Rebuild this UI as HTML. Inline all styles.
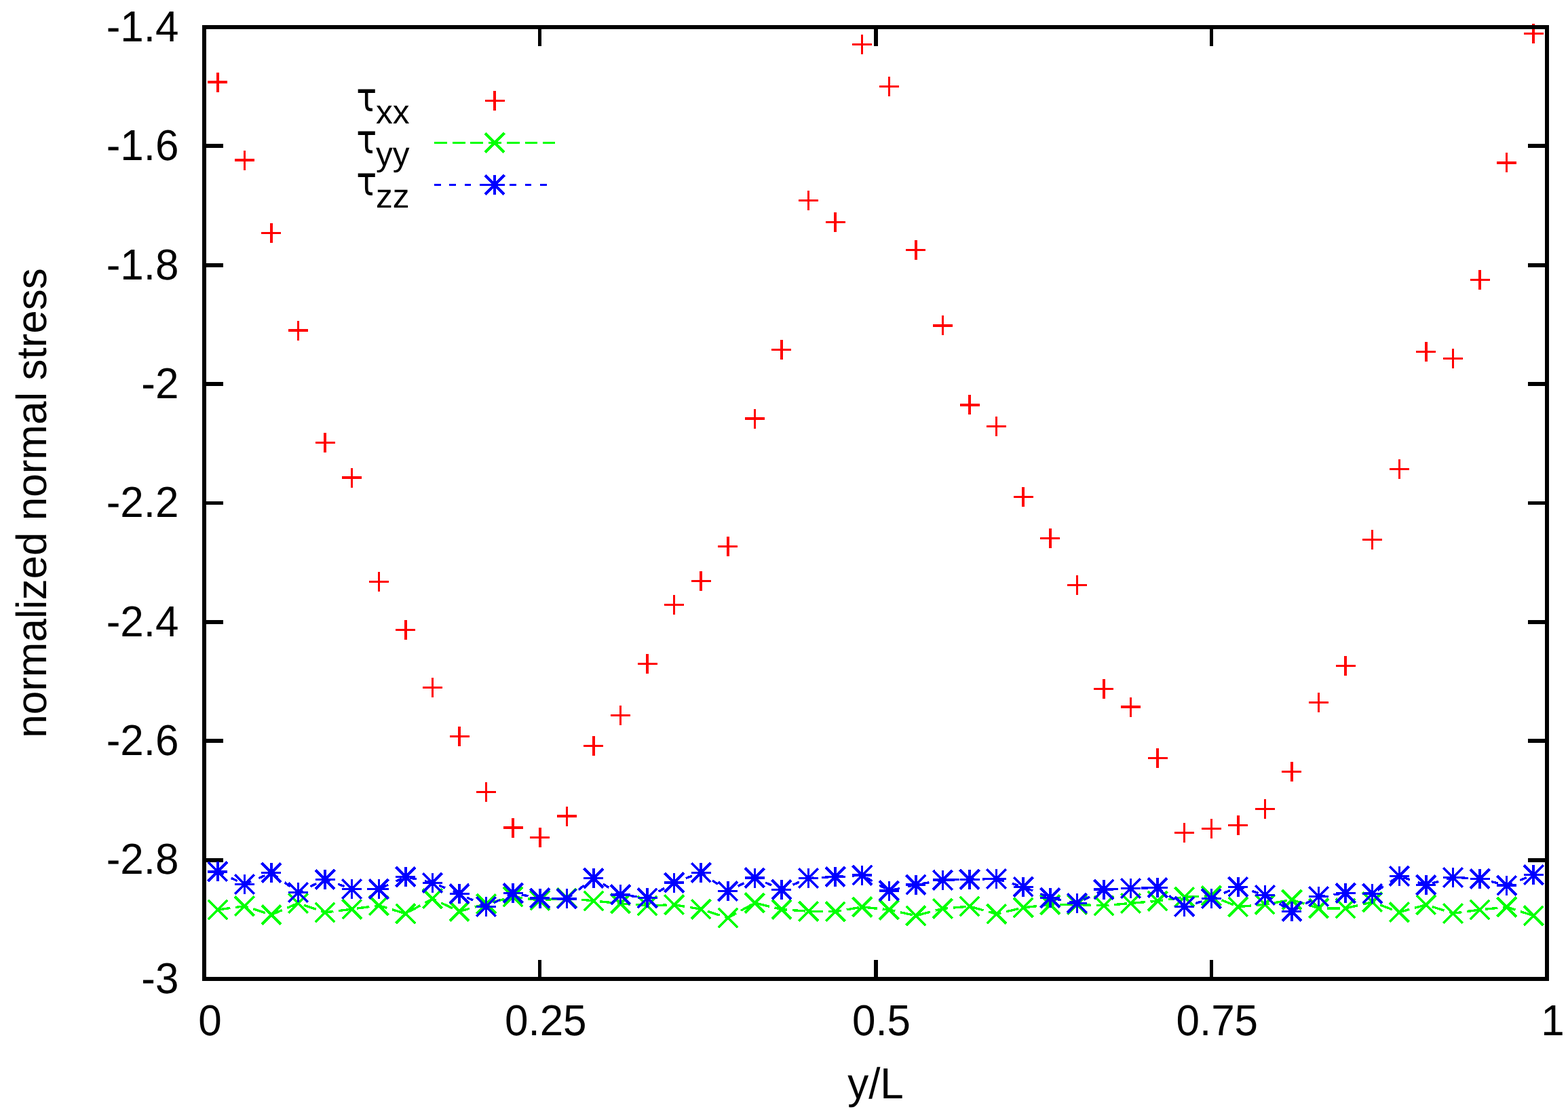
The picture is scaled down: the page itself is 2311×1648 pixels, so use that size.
<!DOCTYPE html>
<html lang="en">
<head>
<meta charset="utf-8">
<title>normalized normal stress vs y/L</title>
<style>
html,body{margin:0;padding:0;background:#fff;}
body{width:2311px;height:1648px;overflow:hidden;}
svg{display:block;}
text{font-family:"Liberation Sans",sans-serif;font-size:62px;fill:#000;text-rendering:geometricPrecision;}
.sym{font-family:"DejaVu Sans","Liberation Sans",sans-serif;font-size:59.3px;}
.sub{font-size:49.6px;}
.r{stroke:#f00;} .g{stroke:#0f0;} .b{stroke:#00f;}
.m{stroke-width:3.5;fill:none;stroke-linecap:butt;}
.x{stroke-width:3.9;fill:none;stroke-linecap:butt;}
.h{stroke-width:3.5;fill:none;stroke-linecap:butt;}
.ln{stroke-width:3.4;fill:none;stroke-linejoin:round;}
</style>
</head>
<body>
<svg width="2311" height="1648" viewBox="0 0 2311 1648">
<rect x="0" y="0" width="2311" height="1648" fill="#fff"/>
<g fill="#000" shape-rendering="crispEdges">
<rect x="301" y="212" width="28" height="6"/><rect x="2252" y="212" width="28" height="6"/>
<rect x="301" y="388" width="28" height="6"/><rect x="2252" y="388" width="28" height="6"/>
<rect x="301" y="563" width="28" height="6"/><rect x="2252" y="563" width="28" height="6"/>
<rect x="301" y="739" width="28" height="5"/><rect x="2252" y="739" width="28" height="5"/>
<rect x="301" y="914" width="28" height="6"/><rect x="2252" y="914" width="28" height="6"/>
<rect x="301" y="1089" width="28" height="6"/><rect x="2252" y="1089" width="28" height="6"/>
<rect x="301" y="1265" width="28" height="6"/><rect x="2252" y="1265" width="28" height="6"/>
<rect x="793" y="40" width="5" height="28"/><rect x="793" y="1415" width="5" height="28"/>
<rect x="1288" y="40" width="6" height="28"/><rect x="1288" y="1415" width="6" height="28"/>
<rect x="1783" y="40" width="5" height="28"/><rect x="1783" y="1415" width="5" height="28"/>
</g>
<g text-anchor="end">
<text transform="translate(263.5 60.8) scale(1 1.03)">-1.4</text>
<text transform="translate(263.5 236.18) scale(1 1.03)">-1.6</text>
<text transform="translate(263.5 411.55) scale(1 1.03)">-1.8</text>
<text transform="translate(263.5 586.92) scale(1 1.03)">-2</text>
<text transform="translate(263.5 762.3) scale(1 1.03)">-2.2</text>
<text transform="translate(263.5 937.67) scale(1 1.03)">-2.4</text>
<text transform="translate(263.5 1113.05) scale(1 1.03)">-2.6</text>
<text transform="translate(263.5 1288.42) scale(1 1.03)">-2.8</text>
<text transform="translate(263.5 1463.8) scale(1 1.03)">-3</text>
</g>
<g text-anchor="middle">
<text transform="translate(309.5 1526) scale(1 1.03)">0</text>
<text transform="translate(804.25 1526) scale(1 1.03)">0.25</text>
<text transform="translate(1299 1526) scale(1 1.03)">0.5</text>
<text transform="translate(1793.75 1526) scale(1 1.03)">0.75</text>
<text transform="translate(2288.5 1526) scale(1 1.03)">1</text>
<text transform="translate(1290.5 1619) scale(1 1.03)">y/L</text>
<text transform="translate(67.5 741.5) rotate(-90) scale(1 1.01)">normalized normal stress</text>
</g>
<g>
<text class="sym" transform="translate(525.3 163.6) scale(0.84 1)">τ</text><text class="sub" transform="translate(554 182.1) scale(1 1)">xx</text>
<text class="sym" transform="translate(525.3 225.6) scale(0.84 1)">τ</text><text class="sub" transform="translate(554 244.1) scale(1 1)">yy</text>
<text class="sym" transform="translate(525.3 287.6) scale(0.84 1)">τ</text><text class="sub" transform="translate(554 306.1) scale(1 1)">zz</text>
</g>
<g shape-rendering="crispEdges">
<path class="h r" d="M714.6 148.5H743.6M306.29 121.2H335.29M345.87 236H374.87M385.45 343.4H414.45M425.03 487H454.03M464.61 652.3H493.61M504.19 704H533.19M543.77 857.7H572.77M583.35 928.6H612.35M622.93 1013.6H651.93M662.51 1085.5H691.51M702.09 1167.5H731.09M741.67 1220.1H770.67M781.25 1234.6H810.25M820.83 1203H849.83M860.41 1099.6H889.41M899.99 1054.5H928.99M939.57 978.4H968.57M979.15 891.4H1008.15M1018.73 856.5H1047.73M1058.31 805.5H1087.31M1097.89 617H1126.89M1137.47 515.6H1166.47M1177.05 295.4H1206.05M1216.63 327.4H1245.63M1256.21 65.3H1285.21M1295.79 127.4H1324.79M1335.37 368.3H1364.37M1374.95 479.9H1403.95M1414.53 596.8H1443.53M1454.11 628.4H1483.11M1493.69 732.3H1522.69M1533.27 793.4H1562.27M1572.85 862.4H1601.85M1612.43 1015.3H1641.43M1652.01 1042.2H1681.01M1691.59 1117.3H1720.59M1731.17 1227.4H1760.17M1770.75 1221.5H1799.75M1810.33 1216.6H1839.33M1849.91 1192.3H1878.91M1889.49 1137.5H1918.49M1929.07 1035.3H1958.07M1968.65 981.3H1997.65M2008.23 795.6H2037.23M2047.81 691.4H2076.81M2087.39 518.5H2116.39M2126.97 528.4H2155.97M2166.55 412.5H2195.55M2206.13 239.8H2235.13M2245.71 49.5H2274.71"/>
<path class="m r" d="M729.1 134V163M320.79 106.7V135.7M360.37 221.5V250.5M399.95 328.9V357.9M439.53 472.5V501.5M479.11 637.8V666.8M518.69 689.5V718.5M558.27 843.2V872.2M597.85 914.1V943.1M637.43 999.1V1028.1M677.01 1071V1100M716.59 1153V1182M756.17 1205.6V1234.6M795.75 1220.1V1249.1M835.33 1188.5V1217.5M874.91 1085.1V1114.1M914.49 1040V1069M954.07 963.9V992.9M993.65 876.9V905.9M1033.23 842V871M1072.81 791V820M1112.39 602.5V631.5M1151.97 501.1V530.1M1191.55 280.9V309.9M1231.13 312.9V341.9M1270.71 50.8V79.8M1310.29 112.9V141.9M1349.87 353.8V382.8M1389.45 465.4V494.4M1429.03 582.3V611.3M1468.61 613.9V642.9M1508.19 717.8V746.8M1547.77 778.9V807.9M1587.35 847.9V876.9M1626.93 1000.8V1029.8M1666.51 1027.7V1056.7M1706.09 1102.8V1131.8M1745.67 1212.9V1241.9M1785.25 1207V1236M1824.83 1202.1V1231.1M1864.41 1177.8V1206.8M1903.99 1123V1152M1943.57 1020.8V1049.8M1983.15 966.8V995.8M2022.73 781.1V810.1M2062.31 676.9V705.9M2101.89 504V533M2141.47 513.9V542.9M2181.05 398V427M2220.63 225.3V254.3M2260.21 35V64"/>
<path class="ln g" stroke-dasharray="18.8 7.9" d="M640 210.4 H818"/>
<polyline class="ln g" stroke-dasharray="18.8 7.9" points="320.79,1341 360.37,1335.7 399.95,1348.5 439.53,1331.3 479.11,1345 518.69,1340.1 558.27,1334.7 597.85,1346.8 637.43,1324.8 677.01,1343.6 716.59,1332.2 756.17,1322 795.75,1327.1 835.33,1324 874.91,1327.9 914.49,1331.9 954.07,1334.9 993.65,1333.7 1033.23,1340.2 1072.81,1353 1112.39,1331 1151.97,1340.5 1191.55,1343.3 1231.13,1343.7 1270.71,1337 1310.29,1341 1349.87,1349.8 1389.45,1339.3 1429.03,1336.1 1468.61,1347.2 1508.19,1337.9 1547.77,1333.5 1587.35,1333.5 1626.93,1334.9 1666.51,1331.4 1706.09,1328.2 1745.67,1322.3 1785.25,1320.5 1824.83,1336.7 1864.41,1333.2 1903.99,1326.3 1943.57,1338.9 1983.15,1338.9 2022.73,1329.6 2062.31,1344.6 2101.89,1333.7 2141.47,1346.3 2181.05,1341 2220.63,1337 2260.21,1349.8"/>
<path class="x g" d="M714.9 196.2L743.3 224.6M714.9 224.6L743.3 196.2M306.59 1326.8L334.99 1355.2M306.59 1355.2L334.99 1326.8M346.17 1321.5L374.57 1349.9M346.17 1349.9L374.57 1321.5M385.75 1334.3L414.15 1362.7M385.75 1362.7L414.15 1334.3M425.33 1317.1L453.73 1345.5M425.33 1345.5L453.73 1317.1M464.91 1330.8L493.31 1359.2M464.91 1359.2L493.31 1330.8M504.49 1325.9L532.89 1354.3M504.49 1354.3L532.89 1325.9M544.07 1320.5L572.47 1348.9M544.07 1348.9L572.47 1320.5M583.65 1332.6L612.05 1361M583.65 1361L612.05 1332.6M623.23 1310.6L651.63 1339M623.23 1339L651.63 1310.6M662.81 1329.4L691.21 1357.8M662.81 1357.8L691.21 1329.4M702.39 1318L730.79 1346.4M702.39 1346.4L730.79 1318M741.97 1307.8L770.37 1336.2M741.97 1336.2L770.37 1307.8M781.55 1312.9L809.95 1341.3M781.55 1341.3L809.95 1312.9M821.13 1309.8L849.53 1338.2M821.13 1338.2L849.53 1309.8M860.71 1313.7L889.11 1342.1M860.71 1342.1L889.11 1313.7M900.29 1317.7L928.69 1346.1M900.29 1346.1L928.69 1317.7M939.87 1320.7L968.27 1349.1M939.87 1349.1L968.27 1320.7M979.45 1319.5L1007.85 1347.9M979.45 1347.9L1007.85 1319.5M1019.03 1326L1047.43 1354.4M1019.03 1354.4L1047.43 1326M1058.61 1338.8L1087.01 1367.2M1058.61 1367.2L1087.01 1338.8M1098.19 1316.8L1126.59 1345.2M1098.19 1345.2L1126.59 1316.8M1137.77 1326.3L1166.17 1354.7M1137.77 1354.7L1166.17 1326.3M1177.35 1329.1L1205.75 1357.5M1177.35 1357.5L1205.75 1329.1M1216.93 1329.5L1245.33 1357.9M1216.93 1357.9L1245.33 1329.5M1256.51 1322.8L1284.91 1351.2M1256.51 1351.2L1284.91 1322.8M1296.09 1326.8L1324.49 1355.2M1296.09 1355.2L1324.49 1326.8M1335.67 1335.6L1364.07 1364M1335.67 1364L1364.07 1335.6M1375.25 1325.1L1403.65 1353.5M1375.25 1353.5L1403.65 1325.1M1414.83 1321.9L1443.23 1350.3M1414.83 1350.3L1443.23 1321.9M1454.41 1333L1482.81 1361.4M1454.41 1361.4L1482.81 1333M1493.99 1323.7L1522.39 1352.1M1493.99 1352.1L1522.39 1323.7M1533.57 1319.3L1561.97 1347.7M1533.57 1347.7L1561.97 1319.3M1573.15 1319.3L1601.55 1347.7M1573.15 1347.7L1601.55 1319.3M1612.73 1320.7L1641.13 1349.1M1612.73 1349.1L1641.13 1320.7M1652.31 1317.2L1680.71 1345.6M1652.31 1345.6L1680.71 1317.2M1691.89 1314L1720.29 1342.4M1691.89 1342.4L1720.29 1314M1731.47 1308.1L1759.87 1336.5M1731.47 1336.5L1759.87 1308.1M1771.05 1306.3L1799.45 1334.7M1771.05 1334.7L1799.45 1306.3M1810.63 1322.5L1839.03 1350.9M1810.63 1350.9L1839.03 1322.5M1850.21 1319L1878.61 1347.4M1850.21 1347.4L1878.61 1319M1889.79 1312.1L1918.19 1340.5M1889.79 1340.5L1918.19 1312.1M1929.37 1324.7L1957.77 1353.1M1929.37 1353.1L1957.77 1324.7M1968.95 1324.7L1997.35 1353.1M1968.95 1353.1L1997.35 1324.7M2008.53 1315.4L2036.93 1343.8M2008.53 1343.8L2036.93 1315.4M2048.11 1330.4L2076.51 1358.8M2048.11 1358.8L2076.51 1330.4M2087.69 1319.5L2116.09 1347.9M2087.69 1347.9L2116.09 1319.5M2127.27 1332.1L2155.67 1360.5M2127.27 1360.5L2155.67 1332.1M2166.85 1326.8L2195.25 1355.2M2166.85 1355.2L2195.25 1326.8M2206.43 1322.8L2234.83 1351.2M2206.43 1351.2L2234.83 1322.8M2246.01 1335.6L2274.41 1364M2246.01 1364L2274.41 1335.6"/>
<path class="ln b" stroke-dasharray="9.9 12.35" d="M640 272.5 H818"/>
<polyline class="ln b" stroke-dasharray="9.9 12.35" points="320.79,1284.8 360.37,1303.6 399.95,1286.4 439.53,1315.4 479.11,1296.4 518.69,1310.5 558.27,1310.5 597.85,1292.5 637.43,1301.3 677.01,1317.4 716.59,1336.6 756.17,1316.5 795.75,1324 835.33,1324.9 874.91,1294.5 914.49,1318.8 954.07,1323.7 993.65,1301 1033.23,1286.3 1072.81,1313.7 1112.39,1294 1151.97,1311.4 1191.55,1294.5 1231.13,1292.4 1270.71,1290.1 1310.29,1313 1349.87,1304.2 1389.45,1297.2 1429.03,1296.3 1468.61,1295.4 1508.19,1307.3 1547.77,1323.5 1587.35,1331.4 1626.93,1311.2 1666.51,1309.4 1706.09,1308.6 1745.67,1336.3 1785.25,1324.7 1824.83,1307.3 1864.41,1319.5 1903.99,1343.3 1943.57,1321.4 1983.15,1316.5 2022.73,1317.3 2062.31,1291.4 2101.89,1304.5 2141.47,1293.3 2181.05,1295.4 2220.63,1305.2 2260.21,1289.6"/>
<path class="h b" d="M714.6 272.5H743.6M306.29 1284.8H335.29M345.87 1303.6H374.87M385.45 1286.4H414.45M425.03 1315.4H454.03M464.61 1296.4H493.61M504.19 1310.5H533.19M543.77 1310.5H572.77M583.35 1292.5H612.35M622.93 1301.3H651.93M662.51 1317.4H691.51M702.09 1336.6H731.09M741.67 1316.5H770.67M781.25 1324H810.25M820.83 1324.9H849.83M860.41 1294.5H889.41M899.99 1318.8H928.99M939.57 1323.7H968.57M979.15 1301H1008.15M1018.73 1286.3H1047.73M1058.31 1313.7H1087.31M1097.89 1294H1126.89M1137.47 1311.4H1166.47M1177.05 1294.5H1206.05M1216.63 1292.4H1245.63M1256.21 1290.1H1285.21M1295.79 1313H1324.79M1335.37 1304.2H1364.37M1374.95 1297.2H1403.95M1414.53 1296.3H1443.53M1454.11 1295.4H1483.11M1493.69 1307.3H1522.69M1533.27 1323.5H1562.27M1572.85 1331.4H1601.85M1612.43 1311.2H1641.43M1652.01 1309.4H1681.01M1691.59 1308.6H1720.59M1731.17 1336.3H1760.17M1770.75 1324.7H1799.75M1810.33 1307.3H1839.33M1849.91 1319.5H1878.91M1889.49 1343.3H1918.49M1929.07 1321.4H1958.07M1968.65 1316.5H1997.65M2008.23 1317.3H2037.23M2047.81 1291.4H2076.81M2087.39 1304.5H2116.39M2126.97 1293.3H2155.97M2166.55 1295.4H2195.55M2206.13 1305.2H2235.13M2245.71 1289.6H2274.71"/>
<path class="m b" d="M729.1 258V287M320.79 1270.3V1299.3M360.37 1289.1V1318.1M399.95 1271.9V1300.9M439.53 1300.9V1329.9M479.11 1281.9V1310.9M518.69 1296V1325M558.27 1296V1325M597.85 1278V1307M637.43 1286.8V1315.8M677.01 1302.9V1331.9M716.59 1322.1V1351.1M756.17 1302V1331M795.75 1309.5V1338.5M835.33 1310.4V1339.4M874.91 1280V1309M914.49 1304.3V1333.3M954.07 1309.2V1338.2M993.65 1286.5V1315.5M1033.23 1271.8V1300.8M1072.81 1299.2V1328.2M1112.39 1279.5V1308.5M1151.97 1296.9V1325.9M1191.55 1280V1309M1231.13 1277.9V1306.9M1270.71 1275.6V1304.6M1310.29 1298.5V1327.5M1349.87 1289.7V1318.7M1389.45 1282.7V1311.7M1429.03 1281.8V1310.8M1468.61 1280.9V1309.9M1508.19 1292.8V1321.8M1547.77 1309V1338M1587.35 1316.9V1345.9M1626.93 1296.7V1325.7M1666.51 1294.9V1323.9M1706.09 1294.1V1323.1M1745.67 1321.8V1350.8M1785.25 1310.2V1339.2M1824.83 1292.8V1321.8M1864.41 1305V1334M1903.99 1328.8V1357.8M1943.57 1306.9V1335.9M1983.15 1302V1331M2022.73 1302.8V1331.8M2062.31 1276.9V1305.9M2101.89 1290V1319M2141.47 1278.8V1307.8M2181.05 1280.9V1309.9M2220.63 1290.7V1319.7M2260.21 1275.1V1304.1"/>
<path class="x b" d="M714.9 258.3L743.3 286.7M714.9 286.7L743.3 258.3M306.59 1270.6L334.99 1299M306.59 1299L334.99 1270.6M346.17 1289.4L374.57 1317.8M346.17 1317.8L374.57 1289.4M385.75 1272.2L414.15 1300.6M385.75 1300.6L414.15 1272.2M425.33 1301.2L453.73 1329.6M425.33 1329.6L453.73 1301.2M464.91 1282.2L493.31 1310.6M464.91 1310.6L493.31 1282.2M504.49 1296.3L532.89 1324.7M504.49 1324.7L532.89 1296.3M544.07 1296.3L572.47 1324.7M544.07 1324.7L572.47 1296.3M583.65 1278.3L612.05 1306.7M583.65 1306.7L612.05 1278.3M623.23 1287.1L651.63 1315.5M623.23 1315.5L651.63 1287.1M662.81 1303.2L691.21 1331.6M662.81 1331.6L691.21 1303.2M702.39 1322.4L730.79 1350.8M702.39 1350.8L730.79 1322.4M741.97 1302.3L770.37 1330.7M741.97 1330.7L770.37 1302.3M781.55 1309.8L809.95 1338.2M781.55 1338.2L809.95 1309.8M821.13 1310.7L849.53 1339.1M821.13 1339.1L849.53 1310.7M860.71 1280.3L889.11 1308.7M860.71 1308.7L889.11 1280.3M900.29 1304.6L928.69 1333M900.29 1333L928.69 1304.6M939.87 1309.5L968.27 1337.9M939.87 1337.9L968.27 1309.5M979.45 1286.8L1007.85 1315.2M979.45 1315.2L1007.85 1286.8M1019.03 1272.1L1047.43 1300.5M1019.03 1300.5L1047.43 1272.1M1058.61 1299.5L1087.01 1327.9M1058.61 1327.9L1087.01 1299.5M1098.19 1279.8L1126.59 1308.2M1098.19 1308.2L1126.59 1279.8M1137.77 1297.2L1166.17 1325.6M1137.77 1325.6L1166.17 1297.2M1177.35 1280.3L1205.75 1308.7M1177.35 1308.7L1205.75 1280.3M1216.93 1278.2L1245.33 1306.6M1216.93 1306.6L1245.33 1278.2M1256.51 1275.9L1284.91 1304.3M1256.51 1304.3L1284.91 1275.9M1296.09 1298.8L1324.49 1327.2M1296.09 1327.2L1324.49 1298.8M1335.67 1290L1364.07 1318.4M1335.67 1318.4L1364.07 1290M1375.25 1283L1403.65 1311.4M1375.25 1311.4L1403.65 1283M1414.83 1282.1L1443.23 1310.5M1414.83 1310.5L1443.23 1282.1M1454.41 1281.2L1482.81 1309.6M1454.41 1309.6L1482.81 1281.2M1493.99 1293.1L1522.39 1321.5M1493.99 1321.5L1522.39 1293.1M1533.57 1309.3L1561.97 1337.7M1533.57 1337.7L1561.97 1309.3M1573.15 1317.2L1601.55 1345.6M1573.15 1345.6L1601.55 1317.2M1612.73 1297L1641.13 1325.4M1612.73 1325.4L1641.13 1297M1652.31 1295.2L1680.71 1323.6M1652.31 1323.6L1680.71 1295.2M1691.89 1294.4L1720.29 1322.8M1691.89 1322.8L1720.29 1294.4M1731.47 1322.1L1759.87 1350.5M1731.47 1350.5L1759.87 1322.1M1771.05 1310.5L1799.45 1338.9M1771.05 1338.9L1799.45 1310.5M1810.63 1293.1L1839.03 1321.5M1810.63 1321.5L1839.03 1293.1M1850.21 1305.3L1878.61 1333.7M1850.21 1333.7L1878.61 1305.3M1889.79 1329.1L1918.19 1357.5M1889.79 1357.5L1918.19 1329.1M1929.37 1307.2L1957.77 1335.6M1929.37 1335.6L1957.77 1307.2M1968.95 1302.3L1997.35 1330.7M1968.95 1330.7L1997.35 1302.3M2008.53 1303.1L2036.93 1331.5M2008.53 1331.5L2036.93 1303.1M2048.11 1277.2L2076.51 1305.6M2048.11 1305.6L2076.51 1277.2M2087.69 1290.3L2116.09 1318.7M2087.69 1318.7L2116.09 1290.3M2127.27 1279.1L2155.67 1307.5M2127.27 1307.5L2155.67 1279.1M2166.85 1281.2L2195.25 1309.6M2166.85 1309.6L2195.25 1281.2M2206.43 1291L2234.83 1319.4M2206.43 1319.4L2234.83 1291M2246.01 1275.4L2274.41 1303.8M2246.01 1303.8L2274.41 1275.4"/>
</g>
<g fill="#000" shape-rendering="crispEdges">
<rect x="298" y="37" width="1985" height="6"/><rect x="298" y="1440" width="1985" height="6"/><rect x="298" y="37" width="6" height="1409"/><rect x="2277" y="37" width="6" height="1409"/>
</g>
</svg>
</body>
</html>
